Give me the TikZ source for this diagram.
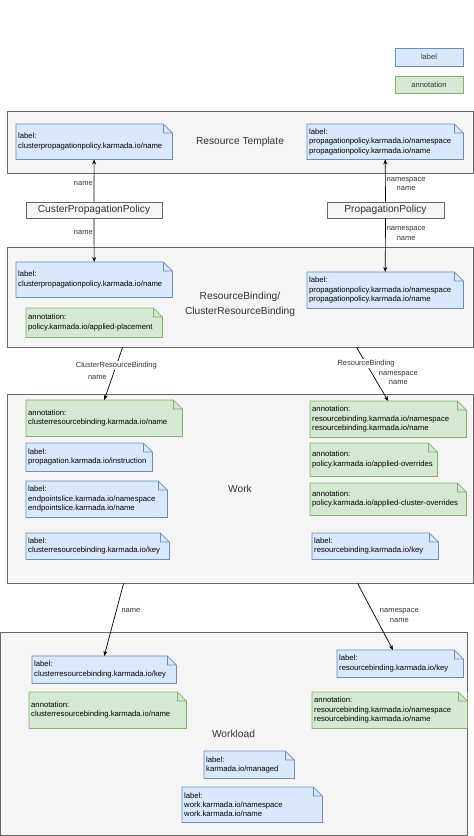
\documentclass[tikz,border=0pt]{standalone}
\usepackage{fontspec}
\setmainfont{Liberation Sans}
\usetikzlibrary{arrows.meta}

\definecolor{lbfill}{HTML}{DAE8FC}
\definecolor{lbline}{HTML}{6C8EBF}
\definecolor{anfill}{HTML}{D5E8D4}
\definecolor{anline}{HTML}{82B366}
\definecolor{boxfill}{HTML}{F5F5F5}
\definecolor{boxline}{HTML}{666666}
\definecolor{boxtext}{HTML}{333333}

\newcommand{\notefont}{\fontsize{7.7}{9.4}\selectfont}
\newcommand{\labfont}{\fontsize{7.5}{9.5}\selectfont}
\newcommand{\titlefont}{\fontsize{10.2}{15}\selectfont}

\tikzset{
  container/.style={draw=boxline, fill=boxfill, text=boxtext, font=\titlefont, inner sep=0pt, align=center, line width=0.8pt},
  title/.style={text=boxtext, font=\titlefont, inner sep=0pt, align=center},
  policy/.style={container, minimum height=16pt},
  note/.style={anchor=north west, inner xsep=2pt, inner ysep=0pt, align=left, font=\notefont},
  lb/.style={note, fill=lbfill},
  an/.style={note, fill=anfill},
  key/.style 2 args={fill=#1, draw=#2, font=\labfont, text=boxtext, minimum width=68pt, inner sep=0pt, line width=0.7pt},
  arr/.style={-{Stealth[length=5pt,width=4pt]}, line width=0.7pt},
  lab/.style={font=\labfont, text=boxtext, align=center, inner sep=1pt},
}

\begin{document}
\begin{tikzpicture}[x=1pt, y=-1pt]
  \useasboundingbox (0,0) rectangle (474,836);

  % containers
  \node[container, minimum width=466pt, minimum height=62pt] (rt) at (240,142) {Resource Template};
  \node[container, minimum width=466pt, minimum height=100pt] (rb) at (240,297) {};
  \node[title] (rbtitle) at (240,304) {ResourceBinding/\\ClusterResourceBinding};
  \node[container, minimum width=466pt, minimum height=189pt] (work) at (240,488.5) {Work};
  \node[container, minimum width=467pt, minimum height=203pt] (wl) at (233.5,733.5) {Workload};

  % resource template
  \node[lb, text width=152pt, minimum height=35pt] (rtl) at (16,124) {label:\\clusterpropagationpolicy.karmada.io/name};
  \node[lb, text width=152pt, minimum height=35pt] (rtr) at (307,124) {label:\\propagationpolicy.karmada.io/namespace\\propagationpolicy.karmada.io/name};

  % resource binding
  \node[lb, text width=152pt, minimum height=35pt] (rbl) at (16,262) {label:\\clusterpropagationpolicy.karmada.io/name};
  \node[an, text width=132pt, minimum height=29pt] (rbg) at (26,308) {annotation:\\policy.karmada.io/applied-placement};
  \node[lb, text width=152pt, minimum height=36pt] (rbr) at (307,272) {label:\\propagationpolicy.karmada.io/namespace\\propagationpolicy.karmada.io/name};

  % work
  \node[an, text width=152pt, minimum height=36pt] (wkgl) at (26,400) {annotation:\\clusterresourcebinding.karmada.io/name};
  \node[lb, text width=122pt, minimum height=28pt] (wkl1) at (26,443) {label:\\propagation.karmada.io/instruction};
  \node[lb, text width=137pt, minimum height=36pt] (wkl2) at (26,481) {label:\\endpointslice.karmada.io/namespace\\endpointslice.karmada.io/name};
  \node[lb, text width=139pt, minimum height=26pt] (wkl3) at (26,533) {label:\\clusterresourcebinding.karmada.io/key};
  \node[an, text width=152pt, minimum height=36pt] (wkgr) at (310,401) {annotation:\\resourcebinding.karmada.io/namespace\\resourcebinding.karmada.io/name};
  \node[an, text width=123pt, minimum height=33pt] (wkg2) at (310,443) {annotation:\\policy.karmada.io/applied-overrides};
  \node[an, text width=152pt, minimum height=32pt] (wkg3) at (310,483) {annotation:\\policy.karmada.io/applied-cluster-overrides};
  \node[lb, text width=122pt, minimum height=26pt] (wkr) at (312,533) {label:\\resourcebinding.karmada.io/key};

  % workload
  \node[lb, text width=140pt, minimum height=27pt] (wll) at (32,656) {label:\\clusterresourcebinding.karmada.io/key};
  \node[an, text width=153pt, minimum height=36pt] (wlg) at (29,692) {annotation:\\clusterresourcebinding.karmada.io/name};
  \node[lb, text width=122pt, minimum height=27pt] (wlr) at (337,650) {label:\\resourcebinding.karmada.io/key};
  \node[an, text width=151pt, minimum height=36pt] (wlgr) at (312,692) {annotation:\\resourcebinding.karmada.io/namespace\\resourcebinding.karmada.io/name};
  \node[lb, text width=86pt, minimum height=27pt] (wlm) at (204,751) {label:\\karmada.io/managed};
  \node[lb, text width=136pt, minimum height=35pt] (wlw) at (182,787) {label:\\work.karmada.io/namespace\\work.karmada.io/name};

  % note outlines with folded corner
  \foreach \n/\col in {rtl/lbline, rtr/lbline, rbl/lbline, rbg/anline, rbr/lbline,
      wkgl/anline, wkl1/lbline, wkl2/lbline, wkl3/lbline, wkgr/anline, wkg2/anline, wkg3/anline, wkr/lbline,
      wll/lbline, wlg/anline, wlr/lbline, wlgr/anline, wlm/lbline, wlw/lbline}{
    \fill[boxfill] (\n.north east) -- ([xshift=-9pt]\n.north east) -- ([yshift=-9pt]\n.north east) -- cycle;
    \draw[draw=\col, line width=0.7pt] (\n.north west) -- ([xshift=-9pt]\n.north east) -- ([yshift=-9pt]\n.north east)
      -- (\n.south east) -- (\n.south west) -- cycle
      ([xshift=-9pt]\n.north east) -- ([shift={(-9pt,-9pt)}]\n.north east) -- ([yshift=-9pt]\n.north east);
  }

  % policies
  \node[policy, minimum width=136pt] (cpp) at (94,210) {CusterPropagationPolicy};
  \node[policy, minimum width=117pt] (pp) at (385.5,210) {PropagationPolicy};

  % legend
  \node[key={lbfill}{lbline}, minimum height=18pt] (klabel) at (429,57) {label};
  \node[key={anfill}{anline}, minimum height=17pt] (kannot) at (429,84.5) {annotation};

  % connectors
  \draw[arr] (cpp) -- node[lab, left, pos=0.42] {name} (rtl);
  \draw[arr] (cpp) -- node[lab, left, pos=0.32] {name} (rbl);
  \draw[arr] (pp) -- node[lab, right, pos=0.42] {namespace\\name} (rtr);
  \draw[arr] (pp) -- node[lab, right, pos=0.28] {namespace\\name} (rbr);
  \draw[arr] ([xshift=116pt]rb.south west) -- node[lab, fill=white, pos=0.34] {ClusterResourceBinding}
    node[lab, left=4pt, pos=0.57] {name} (wkgl.north);
  \draw[arr] ([xshift=350pt]rb.south west) -- node[lab, fill=white, pos=0.3] {ResourceBinding}
    node[lab, right=3pt, pos=0.57] {namespace\\name} (wkgr.north);
  \draw[arr] ([xshift=117pt]work.south west) -- node[lab, right=4pt, pos=0.38] {name} (wll.north);
  \draw[arr] ([xshift=351pt]work.south west) -- node[lab, right=4pt, pos=0.48] {namespace\\name} (wlr);
\end{tikzpicture}
\end{document}
